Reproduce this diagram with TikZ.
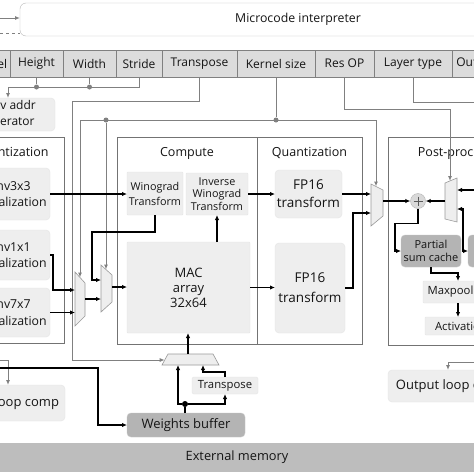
\documentclass[tikz,border=0pt]{standalone}
\usepackage{fontspec}
\setmainfont{Open Sans}
\usetikzlibrary{arrows.meta,calc}
\definecolor{gline}{HTML}{808080}
\definecolor{fieldfill}{HTML}{DCDCDC}
\definecolor{lightfill}{HTML}{EEEEEE}
\definecolor{darkfill}{HTML}{B4B4B4}
\definecolor{memfill}{HTML}{BDBDBD}
\definecolor{txt}{HTML}{151515}
\newcommand{\myfs}[2]{\fontsize{#1}{#2}\selectfont}
\tikzset{
  sz/.style 2 args={minimum width=#1pt, minimum height=#2pt, inner sep=0pt, outer sep=0pt, align=center, text=txt},
  field/.style={draw=gline, fill=fieldfill, line width=0.8pt, font=\myfs{12}{14}},
  panel/.style={draw=gray!90!black, line width=1pt, fill=white},
  lbox/.style={fill=lightfill, draw=black!10, rounded corners=4pt},
  dbox/.style={fill=darkfill, draw=black!22, rounded corners=4pt},
  gl/.style={draw=gline, line width=1pt},
  ga/.style={gl, -{Latex[length=5pt,width=4pt]}},
  bl/.style={draw=black, line width=1.4pt},
  ba/.style={bl, -{Latex[length=5pt,width=4.5pt]}},
  gdot/.style={circle, fill=gline, inner sep=0pt, minimum size=5pt},
  bdot/.style={circle, fill=black, inner sep=0pt, minimum size=6pt},
  muxs/.style={fill=lightfill, draw=gline!80, line width=0.6pt},
  ttl/.style={text=txt, font=\myfs{12.5}{14}, inner sep=0pt},
}
\begin{document}
\begin{tikzpicture}[x=1pt,y=-1pt]
\useasboundingbox (0,0) rectangle (474,474);
\clip (0,0) rectangle (474,474);
\fill[white] (0,0) rectangle (474,474);

% ---------- microcode interpreter ----------
\node[sz={556}{33}, draw=black!28, fill=white, rounded corners=6pt, font=\myfs{12.3}{14}] (mc) at (298,19.5) {Microcode interpreter};
\coordinate (mcin) at (0,18);
\coordinate (mcd) at (0,33);
\draw[ga] (mcin) -- (mcin -| mc.west);
\draw[gl, dashed] (mcd) -- (mcd -| mc.west);

% ---------- fields ----------
\node[field, sz={52}{27}] (f0) at (-16,63.5) {Channel};
\node[field, sz={53}{27}] (fh) at (36.5,63.5) {Height};
\node[field, sz={53}{27}] (fw) at (89.5,63.5) {Width};
\node[field, sz={46}{27}] (fs) at (139,63.5) {Stride};
\node[field, sz={75}{27}] (ft) at (199.5,63.5) {Transpose};
\node[field, sz={78}{27}] (fk) at (276,63.5) {Kernel size};
\node[field, sz={59}{27}] (fr) at (344.5,63.5) {Res OP};
\node[field, sz={78}{27}] (fl) at (413,63.5) {Layer type};
\node[field, sz={96}{27}] (fo) at (500,63.5) {Output channel};

% ---------- panels ----------
\node[panel, sz={106}{206}] (lq) at (11,240) {};
\node[panel, sz={140}{207}] (cp) at (187,240.5) {};
\node[panel, sz={105}{207}] (qp) at (309.5,240.5) {};
\node[panel, sz={152}{208}] (pp) at (464,241) {};
\node[ttl] (lqt) at (11,153) {Quantization};
\node[ttl] (cpt) at (187,153) {Compute};
\node[ttl] (qpt) at (309.5,153) {Quantization};
\node[ttl] (ppt) at (464,153) {Post-processing};

% ---------- boxes ----------
\node[lbox, sz={96}{33}, font=\myfs{12}{16}] (ca) at (7,114.5) {Conv addr\\generator};
\node[lbox, sz={88}{52}, font=\myfs{12.3}{16.5}] (c3) at (6,194) {Conv3x3\\Normalization};
\node[lbox, sz={88}{50}, font=\myfs{12.3}{16.5}] (c1) at (6,255) {Conv1x1\\Normalization};
\node[lbox, sz={88}{49}, font=\myfs{12.3}{16.5}] (c7) at (6,312.5) {Conv7x7\\Normalization};
\node[lbox, rounded corners=1pt, sz={56}{43}, font=\myfs{10.8}{15}] (wg) at (155,193.5) {Winograd\\Transform};
\node[lbox, rounded corners=1pt, sz={62}{42}, font=\myfs{10.8}{12.5}] (iw) at (217,194) {Inverse\\Winograd\\Transform};
\node[lbox, rounded corners=1pt, sz={123}{91}, font=\myfs{13}{15}] (mac) at (188.5,287.5) {MAC\\array\\32x64};
\node[lbox, sz={67}{48}, font=\myfs{13.5}{18}] (fp1) at (308.5,194) {FP16\\transform};
\node[lbox, sz={70}{90}, font=\myfs{13.5}{20}] (fp2) at (310,288) {FP16\\transform};
\node[dbox, sz={60}{32}, font=\myfs{11}{13}] (psc) at (431,251) {Partial\\sum cache};
\node[dbox, sz={64}{32}] (rbox) at (500,251) {};
\node[lbox, rounded corners=1pt, sz={55}{22}, font=\myfs{11.3}{13}] (mp) at (450.5,292) {Maxpool};
\node[lbox, rounded corners=1pt, sz={72}{18}, font=\myfs{11.3}{13}] (act) at (461,326) {Activation};
\node[lbox, sz={127}{32}, font=\myfs{13}{15}] (olc) at (451.5,386) {Output loop comp};
\node[lbox, sz={112}{36}, font=\myfs{13}{15}] (ilc) at (9,403) {Input loop comp};
\node[lbox, rounded corners=2pt, sz={66}{17}, font=\myfs{11.3}{13}] (tp) at (225,385.5) {Transpose};
\node[dbox, sz={118}{24}, font=\myfs{13}{15}] (wb) at (186,425) {Weights buffer};
\node[sz={474}{29}, fill=memfill, font=\myfs{12.8}{15}] (em) at (237,457.5) {External memory};

% plus
\node[circle, minimum size=15pt, inner sep=0pt, fill=black!15, draw=gline!60] (pl) at (418,201) {};
\draw[black!65, line width=0.8pt] ($(pl.center)+(-4.5,0)$) -- ($(pl.center)+(4.5,0)$)
      ($(pl.center)+(0,-4.5)$) -- ($(pl.center)+(0,4.5)$);

% ---------- muxes ----------
\draw[muxs] (75,272) -- (85,283) -- (85,316) -- (75,326) -- cycle;
\coordinate (m1t) at (80,277.5); \coordinate (m1a) at (75,290); \coordinate (m1b) at (75,312); \coordinate (m1o) at (85,299);
\draw[muxs] (101,265) -- (112,275) -- (112,302) -- (101,312) -- cycle;
\coordinate (m2t) at (106,269.5); \coordinate (m2a) at (101,280); \coordinate (m2b) at (101,299); \coordinate (m2o) at (112,287);
\draw[muxs] (371,184) -- (383,190) -- (383,216) -- (371,226) -- cycle;
\coordinate (m3t) at (376,186.5); \coordinate (m3a) at (371,194); \coordinate (m3b) at (371,213); \coordinate (m3o) at (383,201);
\draw[muxs] (445,183) -- (457,178) -- (457,222) -- (445,219) -- cycle;
\coordinate (m4t) at (450,181); \coordinate (m4a) at (457,190); \coordinate (m4b) at (457,209); \coordinate (m4o) at (445,201);
\draw[muxs] (162,365) -- (168,354) -- (213,354) -- (219,365) -- cycle;
\coordinate (m5l) at (164.7,360); \coordinate (m5a) at (178,365); \coordinate (m5b) at (203,365); \coordinate (m5o) at (188,354);

% ---------- gray control lines ----------
\coordinate (hj) at (0,87);
\node[gdot] (dh) at (fh.south |- hj) {};
\node[gdot] (dw) at (fw.south |- hj) {};
\draw[gl] (fh.south) -- (dh);
\draw[gl] (fw.south) -- (dw);
\draw[ga] (fs.south) |- (8,87) -- (8,98);
\draw[ga] (ft.south) |- (72,101) |- (m5l);
\coordinate (kh) at (0,120);
\node[gdot] (dk) at (fk.south |- kh) {};
\node[gdot] (d2) at (m2t |- kh) {};
\draw[gl] (fk.south) -- (dk);
\draw[ga] (m1t |- kh) -- (m1t);
\draw[gl] (m1t |- kh) -- (m3t |- kh);
\draw[ga] (d2) -- (m2t);
\draw[ga] (m3t |- kh) -- (m3t);
\draw[ga] (fr.south) |- (m4t |- 0,109) -- (m4t);
\draw[gl] (fl.south) |- (480,102);
\coordinate (ol) at (480,362);
\draw[ga] (ol) -| ($(olc.north)+(-3.5,0)$);
\coordinate (il) at (0,360);
\draw[ga] (il) -| ($(ilc.north)+(-1,0)$);

% ---------- black data paths ----------
\draw[ba] (c3.east) -- (c3.east -| wg.west);
\draw[ba] (c1.east) -- ++(3,0) |- (m1a);
\draw[ba] (c7.east) -- (c7.east -| m1b);
\draw[ba] (m1o) -- (m2b);
\draw[ba] (wg.south) -- ++(0,17) -| ($(m2a)+(-9,0)$) -- (m2a);
\draw[ba] (m2o) -- (m2o -| mac.west);
\draw[ba] (iw.south |- mac.north) -- (iw.south);
\draw[ba] (iw.east) -- (iw.east -| fp1.west);
\draw[ba] (mac.east) -- (mac.east -| fp2.west);
\draw[ba] (fp1.east) -- (m3a);
\draw[ba] (fp2.east) -- ++(8,0) |- (m3b);
\draw[ba] (m3o) -- (pl.west);
\draw[ba] (m4o) -- (pl.east);
\coordinate (rin) at (480,190);
\draw[ba] (rin) -- (m4a);
\draw[bl, {Latex[length=5pt,width=4.5pt]}-{Latex[length=5pt,width=4.5pt]}] (m4b) -- ++(6,0) |- (rbox.west);
\draw[ba] (pl.south) -- ++(0,14.5) -| ($(psc.west)+(-6,0)$) -- (psc.west);
\coordinate (mpa) at ($(mp.north)+(7.5,0)$);
\draw[ba] (psc.south) -- ++(0,6) -| (mpa);
\coordinate (mpb) at ($(mp.south)+(7.5,0)$);
\draw[ba] (mpb) -- (mpb |- act.north);
\coordinate (wl) at (0,368);
\draw[ba] (wl) -| ($(wb.west)+(-29,0)$) -- (wb.west);
\node[bdot] (wd) at ($(wb.north)+(-1,-9)$) {};
\draw[bl] (wb.north -| wd) -- (wd);
\draw[ba] (wd) -| (m5a);
\draw[ba] (wd) -| (tp.south);
\draw[ba] (tp.north) -- ++(0,-5) -| (m5b);
\draw[ba] (m5o) -- (m5o |- mac.south);
\end{tikzpicture}
\end{document}
